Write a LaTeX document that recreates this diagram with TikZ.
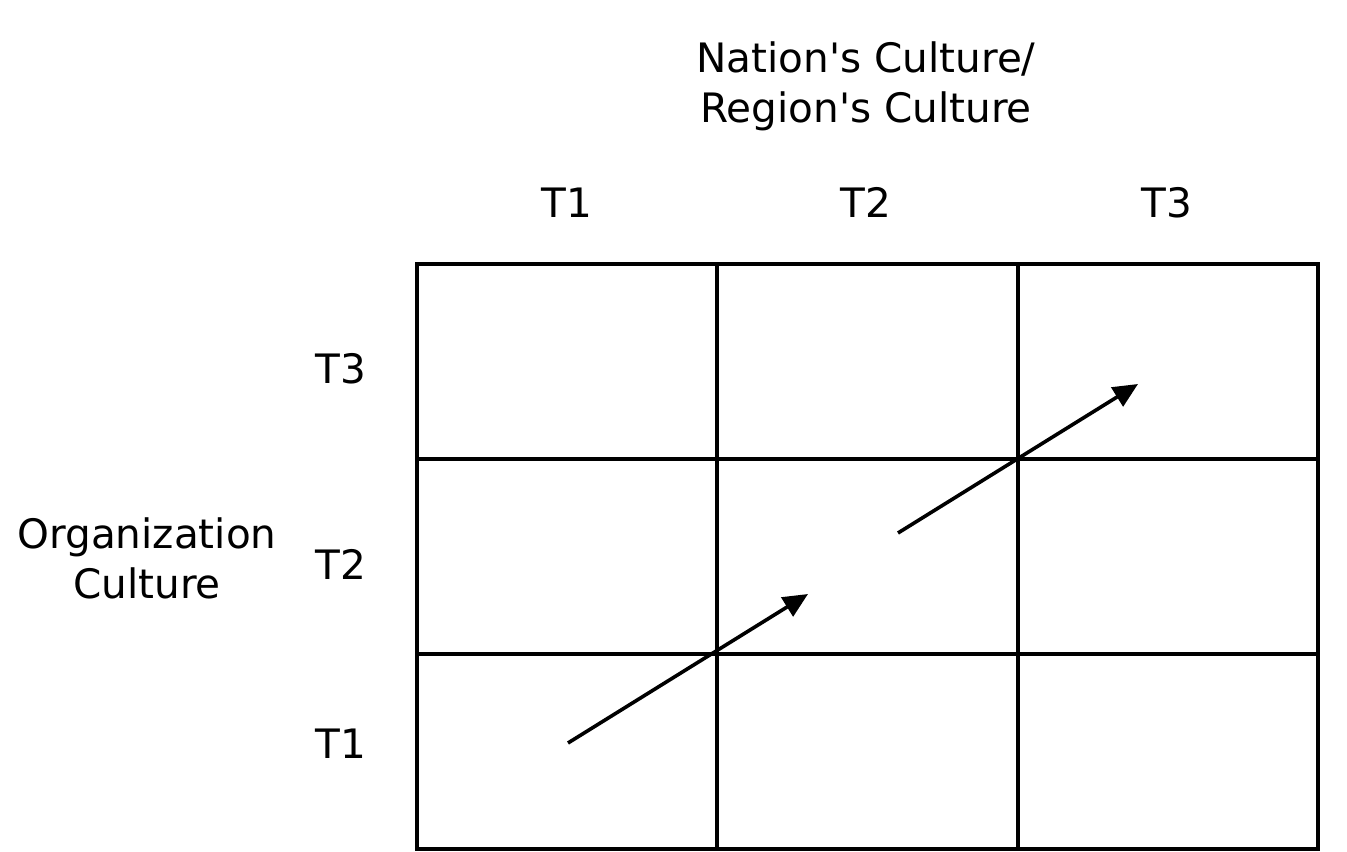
\documentclass[tikz,border=0pt]{standalone}
\usepackage{fontspec}
\setmainfont{DejaVu Sans}
\usetikzlibrary{arrows.meta}

\begin{document}
\begin{tikzpicture}[x=0.75pt,y=0.75pt,yscale=-1,xscale=1]
	\useasboundingbox (0,0) rectangle (1347,851);
	\tikzset{lbl/.style={inner sep=0pt, font=\fontsize{30.4}{37.5}\selectfont, align=center},
		grid line/.style={line width=2.8pt},
		shift arrow/.style={line width=2.7pt, -{Triangle[length=18.5pt,width=16.5pt]}}}
	% matrix
	\draw [grid line] (417,264) rectangle (1318,849) ;
	\draw [grid line] (717,264) -- (717,849) ;
	\draw [grid line] (1018,264) -- (1018,849) ;
	\draw [grid line] (417,459) -- (1318,459) ;
	\draw [grid line] (417,654) -- (1318,654) ;
	% arrows
	\coordinate (a1) at (568,743) ;
	\coordinate (b1) at (808,594) ;
	\coordinate (a2) at (898,533) ;
	\coordinate (b2) at (1138,384) ;
	\draw [shift arrow] (a1) -- (b1) ;
	\draw [shift arrow] (a2) -- (b2) ;
	% labels
	\draw (866,86) node (nation) [lbl] {Nation\textquotesingle s Culture/\\Region\textquotesingle s Culture};
	\draw (567,217) node (colA) [lbl, anchor=base] {T1};
	\draw (866,217) node (colB) [lbl, anchor=base] {T2};
	\draw (1167,217) node (colC) [lbl, anchor=base] {T3};
	\draw (147,558) node (org) [lbl] {Organization\\Culture};
	\draw (341,383) node (rowC) [lbl, anchor=base] {T3};
	\draw (341,579) node (rowB) [lbl, anchor=base] {T2};
	\draw (341,758) node (rowA) [lbl, anchor=base] {T1};
\end{tikzpicture}
\end{document}
